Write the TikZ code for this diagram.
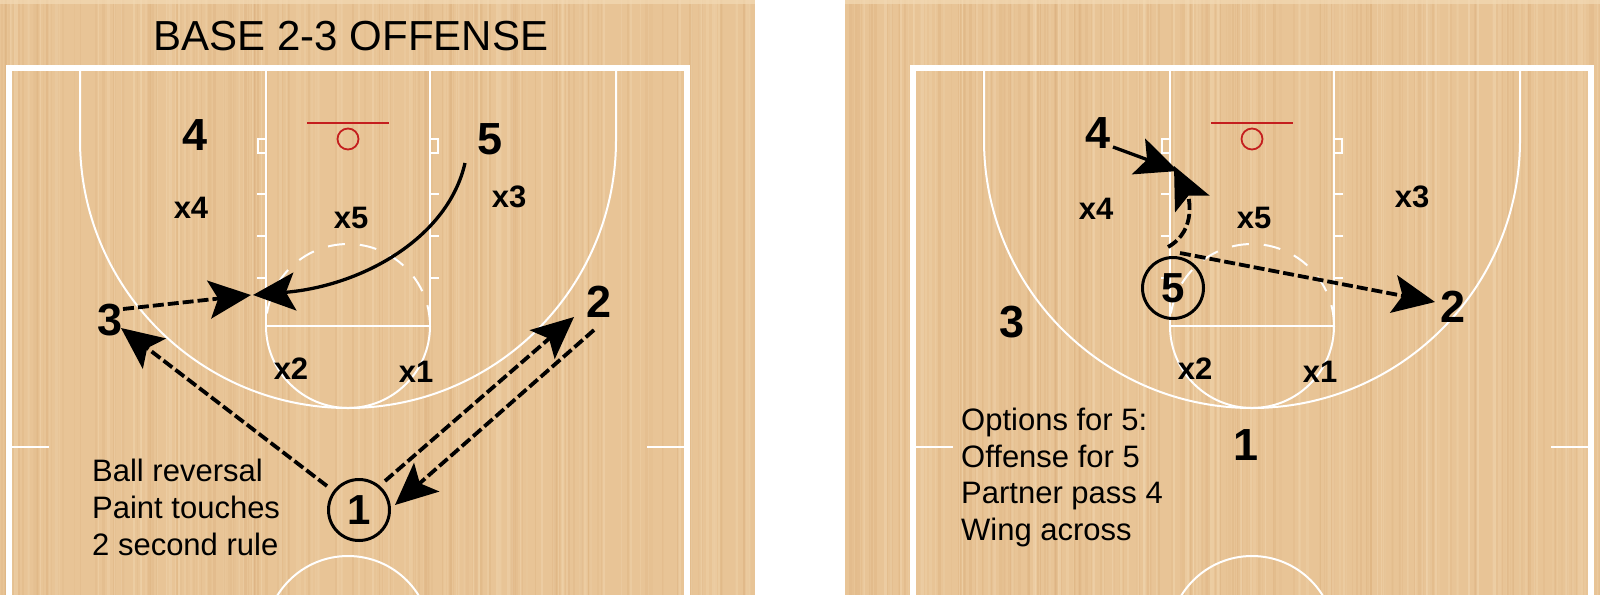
\documentclass[tikz,border=0pt]{standalone}
\usepackage{fontspec}
\setmainfont{Liberation Sans}
\usetikzlibrary{arrows.meta}
\definecolor{wood}{HTML}{E8C496}
\definecolor{wooddark}{HTML}{D7A873}
\definecolor{woodlight}{HTML}{F3DAB5}
\definecolor{rimred}{HTML}{C41E1E}
\newcommand{\drawcourt}{%
  \draw[boundary] (9,-600) -- (9,-68) -- (687,-68) -- (687,-600);
  \draw[courtline] (80,-68) -- (80,-140) arc[start angle=180,end angle=360,radius=268] -- (616,-68);
  \draw[courtline] (266,-68) -- (266,-326) -- (430,-326) -- (430,-68);
  \draw[courtline, dash pattern=on 17pt off 15pt, dash phase=-4pt] (430,-326) arc[start angle=0,end angle=180,radius=82];
  \draw[courtline] (266,-326) arc[start angle=180,end angle=360,radius=82];
  \draw[courtline] (258,-139) rectangle (266,-153);
  \draw[courtline] (430,-139) rectangle (438,-153);
  \foreach \ty in {194,236,278} {\draw[courtline] (257,-\ty) -- (266,-\ty); \draw[courtline] (430,-\ty) -- (439,-\ty);}
  \draw[courtline] (12,-447) -- (49,-447);
  \draw[courtline] (647,-447) -- (684,-447);
  \draw[courtline] (348,-639) circle[radius=83];
  \draw[rimline] (307,-123) -- (389,-123);
  \draw[rimline, line width=1.8pt] (348,-139) circle[radius=10.5];
}
\newcommand{\woodgrain}[2]{%
  \fill[wood] (#1,0) rectangle (#2,-595);
  \foreach \i in {1,...,160} {
    \pgfmathsetmacro{\xx}{#1+rnd*(#2-#1)}
    \pgfmathsetmacro{\ww}{0.6+rnd*2.5}
    \pgfmathsetmacro{\op}{0.08+rnd*0.2}
    \fill[wooddark, opacity=\op] (\xx,0) rectangle ++(\ww,-595);
  }
  \foreach \i in {1,...,120} {
    \pgfmathsetmacro{\xx}{#1+rnd*(#2-#1)}
    \pgfmathsetmacro{\ww}{0.6+rnd*2.5}
    \pgfmathsetmacro{\op}{0.12+rnd*0.3}
    \fill[woodlight, opacity=\op] (\xx,0) rectangle ++(\ww,-595);
  }
  \fill[woodlight, opacity=0.7] (#1,0) rectangle (#2,-4);
}
\begin{document}
\begin{tikzpicture}[x=1pt,y=1pt,
  courtline/.style={white, line width=2pt},
  boundary/.style={white, line width=5.5pt, line join=miter},
  rimline/.style={rimred, line width=2pt},
  player/.style={font=\fontsize{45}{45}\selectfont\bfseries, inner sep=0pt},
  defender/.style={font=\fontsize{31}{31}\selectfont\bfseries, inner sep=0pt},
  ballhandler/.style={draw=black, circle, line width=3pt, minimum size=61pt, inner sep=0pt, font=\fontsize{42}{42}\selectfont\bfseries},
  note/.style={font=\fontsize{31}{31}\selectfont, anchor=base west, inner sep=0pt},
  move/.style={black, line width=3.3pt, -{Stealth[length=42pt,width=38pt,inset=9pt]}},
  pass/.style={move, line width=3.8pt, dash pattern=on 11pt off 4pt},
]
\useasboundingbox (0,0) rectangle (1600,-595);
\fill[white] (0,0) rectangle (1600,-595);
\pgfmathsetseed{11}
% left panel
\begin{scope}
  \clip (0,0) rectangle (755,-595);
  \woodgrain{0}{755}
  \drawcourt
\end{scope}
% right panel
\begin{scope}
  \clip (845,0) rectangle (1600,-595);
  \woodgrain{845}{1600}
  \begin{scope}[xshift=904pt]
    \drawcourt
  \end{scope}
\end{scope}

% title
\node[font=\fontsize{42}{42}\selectfont, anchor=base, inner sep=0pt] (title) at (351,-50) {BASE 2-3 OFFENSE};

% left players
\node[player] (L4) at (195,-135) {4};
\node[player] (L5) at (490,-139) {5};
\node[defender] (Lx4) at (191,-208) {x4};
\node[defender] (Lx5) at (351,-218) {x5};
\node[defender] (Lx3) at (509,-197) {x3};
\node[player] (L3) at (110,-320) {3};
\node[player] (L2) at (599,-302) {2};
\node[defender] (Lx2) at (291,-369) {x2};
\node[defender] (Lx1) at (416,-372) {x1};
\node[ballhandler] (L1) at (359,-510) {1};

\node[note] (n1) at (92,-481) {Ball reversal};
\node[note] (n2) at (92,-518) {Paint touches};
\node[note] (n3) at (92,-555) {2 second rule};

% left arrows
\coordinate (a5s) at (465,-163);
\coordinate (meetA) at (253,-295);
\draw[move] (a5s) .. controls (448,-238) and (362,-286) .. (meetA);
\coordinate (a3s) at (123,-309);
\coordinate (meetB) at (251,-295);
\draw[pass] (a3s) -- (meetB);
\coordinate (a1s) at (327,-486);
\coordinate (t3) at (121,-328);
\draw[pass] (a1s) -- (t3);
\coordinate (a1t) at (385,-481);
\coordinate (t2) at (574,-317);
\draw[pass] (a1t) -- (t2);
\coordinate (a2s) at (594,-330);
\coordinate (t1) at (395,-505);
\draw[pass] (a2s) -- (t1);

% right players
\node[player] (R4) at (1098,-133) {4};
\node[defender] (Rx4) at (1096,-209) {x4};
\node[defender] (Rx5) at (1254,-218) {x5};
\node[defender] (Rx3) at (1412,-197) {x3};
\node[player] (R3) at (1012,-322) {3};
\node[ballhandler] (R5) at (1173,-288) {5};
\node[player] (R2) at (1453,-307) {2};
\node[defender] (Rx2) at (1195,-369) {x2};
\node[defender] (Rx1) at (1320,-372) {x1};
\node[player] (R1) at (1246,-445) {1};

\node[note] (r1) at (961,-430) {Options for 5:};
\node[note] (r2) at (961,-467) {Offense for 5};
\node[note] (r3) at (961,-503) {Partner pass 4};
\node[note] (r4) at (961,-540) {Wing across};

% right arrows
\coordinate (b4s) at (1113,-147);
\coordinate (b4t) at (1178,-171);
\draw[move] (b4s) -- (b4t);
\coordinate (b5s) at (1168,-247);
\coordinate (b5t) at (1174,-166);
\draw[pass] (b5s) .. controls (1198,-230) and (1188,-195) .. (b5t);
\coordinate (c5s) at (1180,-253);
\coordinate (c2t) at (1435,-302);
\draw[pass] (c5s) -- (c2t);
\end{tikzpicture}
\end{document}
